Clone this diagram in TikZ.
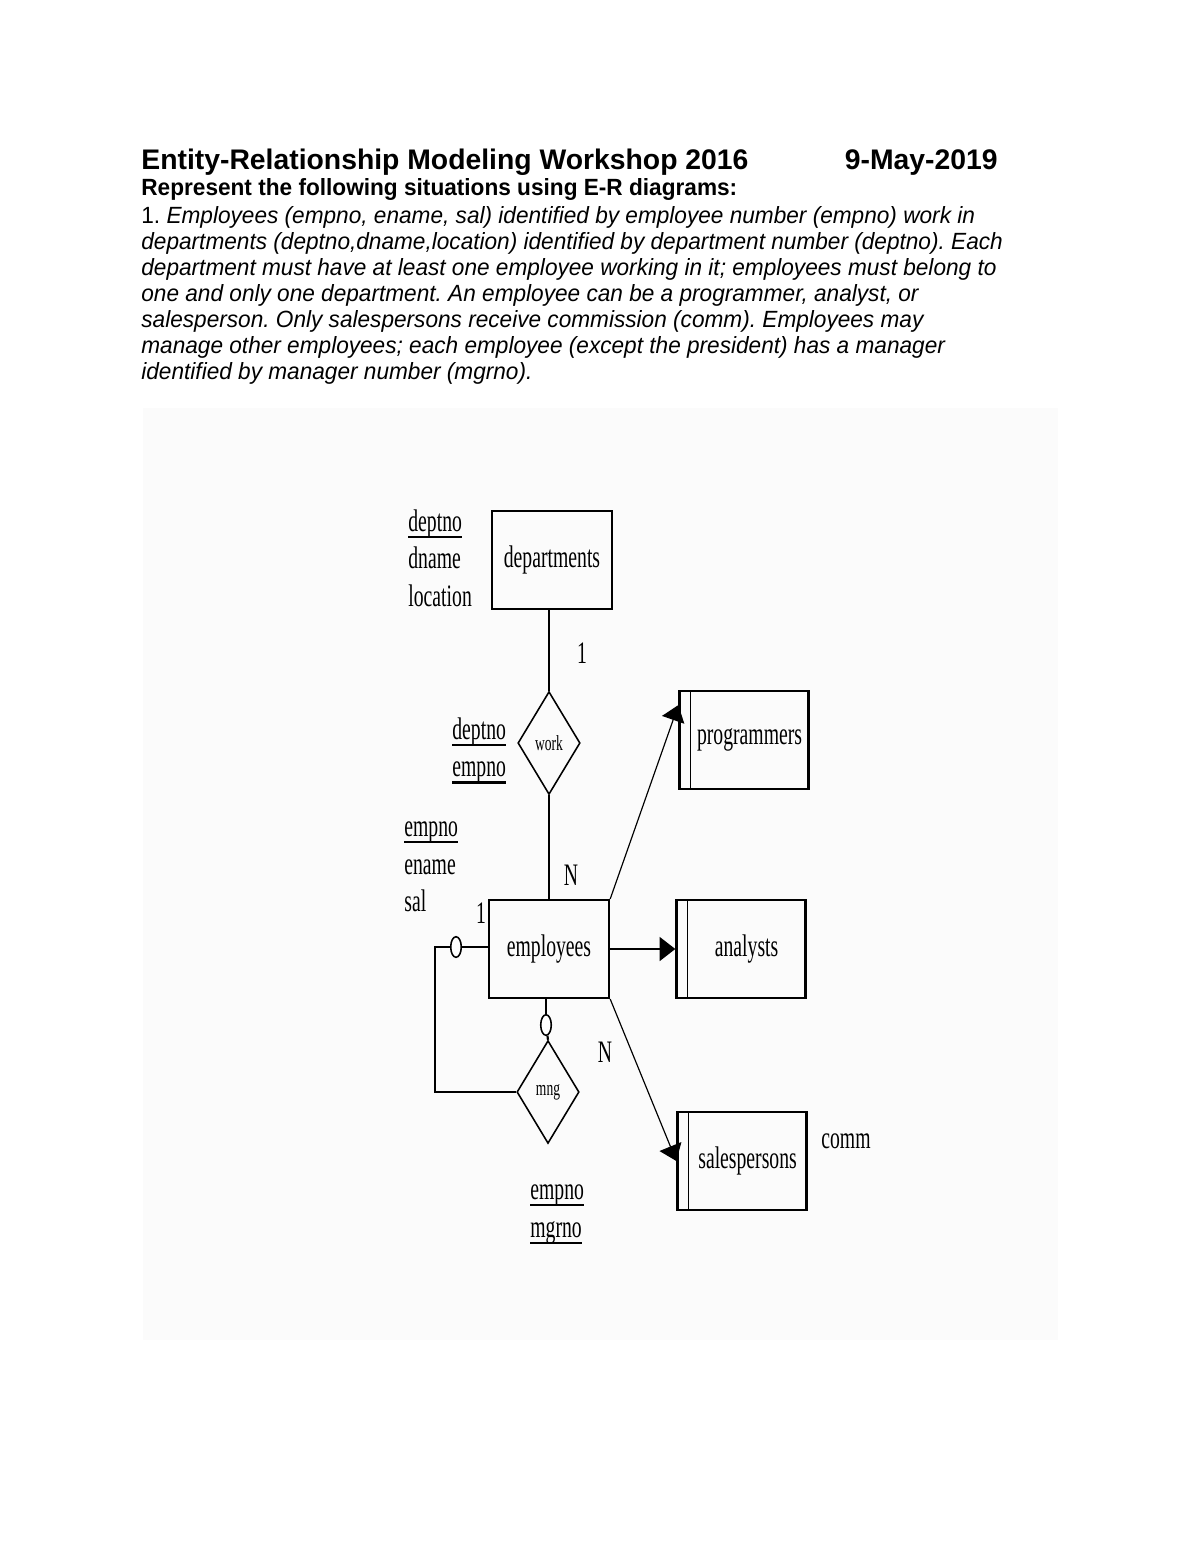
\documentclass[tikz,border=0pt]{standalone}
\usepackage{fontspec}
\setmainfont{Liberation Sans}
\newfontfamily\narrowsans[FakeStretch=0.965]{Liberation Sans}
\newfontfamily\erfont[FakeStretch=0.63]{Liberation Serif}
\usepackage{tikz}
\usetikzlibrary{shapes.geometric,arrows.meta,calc,positioning}
\definecolor{canvas}{HTML}{FBFBFB}
\newcommand\keyattr[1]{\setbox0=\hbox{#1}\rlap{\rule[-3.6pt]{\wd0}{1.3pt}}\box0}
\frenchspacing

\tikzset{
  entity/.style={draw, rectangle, line width=1.2pt, minimum width=2.16cm, minimum height=1.76cm, inner sep=0,
    font=\erfont\fontsize{16}{19}\selectfont},
  subentity/.style={entity, minimum width=2.32cm, execute at begin node={\hspace*{0.2cm}},
    path picture={\draw[line width=0.8pt] ([xshift=0.2cm]path picture bounding box.north west) -- ([xshift=0.2cm]path picture bounding box.south west);}},
  relation/.style={draw, diamond, line width=0.8pt, minimum width=1.12cm, minimum height=1.85cm, inner sep=0,
    font=\erfont\fontsize{11}{13}\selectfont},
  attr/.style={align=left, inner sep=0, font=\erfont\fontsize{16}{19.4}\selectfont},
  card/.style={inner sep=0, font=\erfont\fontsize{16}{19}\selectfont},
  opt/.style={draw, ellipse, fill=white, line width=0.8pt, minimum width=0.19cm, minimum height=0.37cm, inner sep=0}
}

\begin{document}
\begin{tikzpicture}[x=0.017992cm, y=-0.017992cm]
   \useasboundingbox (0,0) rectangle (1200,1553);
   % header text
   \node[anchor=base west, inner sep=0, font=\fontsize{14.5}{17}\selectfont\bfseries] (title) at (141,170) {Entity-Relationship Modeling Workshop 2016};
   \node[anchor=base east, inner sep=0, font=\fontsize{14.5}{17}\selectfont\bfseries] (date) at (998,170) {9-May-2019};
   \node[anchor=base west, inner sep=0, font=\narrowsans\fontsize{12}{14}\selectfont\bfseries] (task) at (141,196) {Represent the following situations using E-R diagrams:};
   \node[anchor=north west, inner sep=0, align=left, font=\narrowsans\fontsize{12}{13.3}\selectfont] (question) at (141,206) {1. \textit{Employees (empno, ename, sal) identified by employee number (empno) work in}\\
   \textit{departments (deptno,dname,location) identified by department number (deptno). Each}\\
   \textit{department must have at least one employee working in it; employees must belong to}\\
   \textit{one and only one department. An employee can be a programmer, analyst, or}\\
   \textit{salesperson. Only salespersons receive commission (comm). Employees may}\\
   \textit{manage other employees; each employee (except the president) has a manager}\\
   \textit{identified by manager number (mgrno).}};
   % diagram
   \fill[canvas] (143,408) rectangle (1058,1340);
   \node[entity] (dept) at (552,560) {departments};
   \node[relation] (work) at (549,743) {work};
   \node[entity] (emp) at (549,949) {employees};
   \node[relation] (mng) at (548,1092) {mng};
   \node[subentity] (prog) at (744,740) {programmers};
   \node[subentity] (anal) at (741,949) {analysts};
   \node[subentity] (sales) at (742,1161) {salespersons};
   \node[opt] (optL) at (456,947) {};
   \node[opt] (optB) at (546,1025) {};
   \coordinate (turn) at (435,947);

   \node[attr, anchor=north west] (deptattr) at (408,509) {\keyattr{deptno}\\dname\\location};
   \node[attr, anchor=north west] (workattr) at (452,717) {\keyattr{deptno}\\\keyattr{empno}};
   \node[attr, anchor=north west] (empattr) at (404,821) {\keyattr{empno}\\ename\\sal};
   \node[attr, anchor=north west] (mngattr) at (530,1184) {\keyattr{empno}\\\keyattr{mgrno}};
   \node[attr, anchor=base west] (comm) at (821,1148) {comm};

   \node[card, anchor=base] (c1) at (582,663) {1};
   \node[card, anchor=base] (c2) at (571,885) {N};
   \node[card, anchor=base] (c3) at (481,923) {1};
   \node[card, anchor=base] (c4) at (605,1062) {N};

   \draw[line width=0.8pt] (work.north |- dept.south) -- (work.north);
   \draw[line width=0.8pt] (work.south) -- (work.south |- emp.north);
   \draw[line width=1.5pt] (optL -| emp.west) -- (optL);
   \draw[line width=1.5pt] (optL) -- (turn) |- (mng.west);
   \draw[line width=1.1pt] (optB |- emp.south) -- (optB);
   \draw[line width=1.1pt] (optB) -- (mng.north);
   \begin{scope}[->, >={Triangle[length=8pt, width=12pt]}]
    \draw[line width=0.6pt] (emp.north east) -- (prog.152);
    \draw[line width=1.5pt] (emp.east) -- (anal.west);
    \draw[line width=0.6pt] (emp.south east) -- (sales.west);
   \end{scope}
\end{tikzpicture}
\end{document}
